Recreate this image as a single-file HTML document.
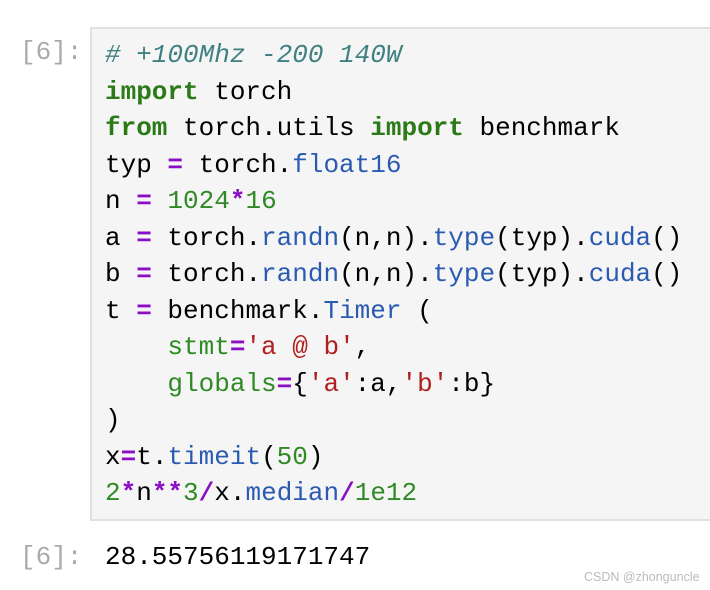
<!DOCTYPE html>
<html><head><meta charset="utf-8"><style>
body{margin:0;width:710px;height:590px;background:#fff;position:relative;overflow:hidden;font-family:"Liberation Mono","DejaVu Sans Mono",monospace;}
.box{position:absolute;left:90px;top:27px;width:640px;height:490px;background:#f5f5f5;border:2px solid #e0e0e0;}
pre{position:absolute;left:105px;top:37px;margin:0;font-family:"Liberation Mono",monospace;font-size:26px;line-height:36.5px;color:#000;}
.p{position:absolute;left:20px;font-family:"Liberation Mono",monospace;font-size:26px;color:#aaa;}
.c{color:#408080;font-style:italic}.k{color:#2b7a17;font-weight:bold}.o{color:#8a0fc4;font-weight:bold}.f{color:#2a5bb0}.n{color:#2f8a25}.s{color:#b02020}.w{color:#9a3ab0}
.wm{position:absolute;left:584px;top:570px;font-family:"Liberation Sans",sans-serif;font-size:12.5px;color:#bbb;}
</style></head><body>
<div class="box"></div>
<div class="p" style="top:37px">[6]:</div>
<pre><span class="c"># +100Mhz -200 140W</span>
<span class="k">import</span> torch
<span class="k">from</span> torch.utils <span class="k">import</span> benchmark
typ <span class="o">=</span> torch.<span class="f">float16</span>
n <span class="o">=</span> <span class="n">1024</span><span class="o">*</span><span class="n">16</span>
a <span class="o">=</span> torch.<span class="f">randn</span>(n,n).<span class="f">type</span>(typ).<span class="f">cuda</span>()
b <span class="o">=</span> torch.<span class="f">randn</span>(n,n).<span class="f">type</span>(typ).<span class="f">cuda</span>()
t <span class="o">=</span> benchmark.<span class="f">Timer</span> (
    <span class="n">stmt</span><span class="o">=</span><span class="s">'a @ b'</span>,
    <span class="n">globals</span><span class="o">=</span>{<span class="s">'a'</span>:a,<span class="s">'b'</span>:b}
)
x<span class="o">=</span>t.<span class="f">timeit</span>(<span class="n">50</span>)
<span class="n">2</span><span class="o">*</span>n<span class="o">**</span><span class="n">3</span><span class="o">/</span>x.<span class="f">median</span><span class="o">/</span><span class="n">1e12</span></pre>
<div class="p" style="top:542px">[6]:</div>
<div style="position:absolute;left:105px;top:542px;font-size:26px;font-family:'Liberation Mono',monospace;">28.55756119171747</div>
<div class="wm">CSDN @zhonguncle</div>
</body></html>
